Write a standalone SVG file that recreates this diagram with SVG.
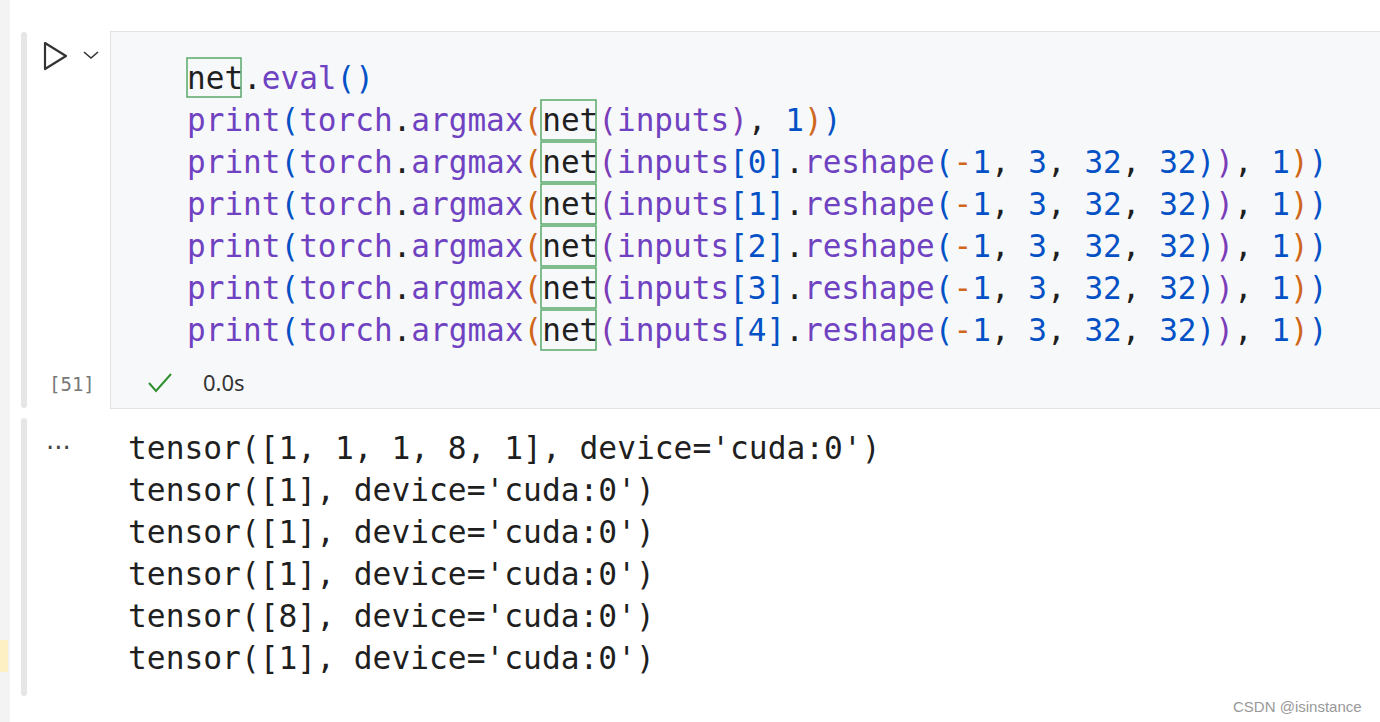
<svg xmlns="http://www.w3.org/2000/svg" width="1380" height="722" viewBox="0 0 1380 722">
<style>
.c{font-family:"DejaVu Sans Mono",monospace;font-size:31.05px;fill:#1f1f1f;white-space:pre}
.o2{font-size:31.25px}
.p{fill:#6f42c1}.b{fill:#0451c6}.o{fill:#d0661a}.v{fill:#7a3cb8}.n{fill:#0451c6}
.box{fill:none;stroke:#5aa96a;stroke-width:1.5}
</style>
<rect width="1380" height="722" fill="#ffffff"/>
<rect x="0" y="0" width="10" height="722" fill="#f3f3f3"/>
<rect x="0" y="640" width="8" height="32" fill="#fdf1c4"/>
<rect x="21" y="32" width="6" height="376" rx="3" fill="#e6e6e6"/>
<rect x="21" y="418" width="6" height="278" rx="3" fill="#e6e6e6"/>
<g id="cell">
<rect x="110.5" y="31.5" width="1275" height="377" fill="#f7f8fa" stroke="#e3e3e3"/>
<path d="M45 43 L66 56 L45 69 Z" fill="none" stroke="#333" stroke-width="2.2" stroke-linejoin="round"/>
<path d="M84 52 L91 58 L98 52" fill="none" stroke="#333" stroke-width="1.6"/>
<rect class="box" x="187" y="58" width="54" height="39"/>
<rect class="box" x="541" y="100" width="55" height="40"/>
<rect class="box" x="541" y="142" width="55" height="40"/>
<rect class="box" x="541" y="184" width="55" height="40"/>
<rect class="box" x="541" y="226" width="55" height="40"/>
<rect class="box" x="541" y="268" width="55" height="40"/>
<rect class="box" x="541" y="310" width="55" height="40"/>
<text class="c" x="187" y="89">net.<tspan class="p">eval</tspan><tspan class="b">()</tspan></text>
<text class="c" x="187" y="131"><tspan class="p">print</tspan><tspan class="b">(</tspan><tspan class="p">torch</tspan>.<tspan class="p">argmax</tspan><tspan class="o">(</tspan>net<tspan class="v">(</tspan><tspan class="p">inputs</tspan><tspan class="v">)</tspan>, <tspan class="n">1</tspan><tspan class="o">)</tspan><tspan class="b">)</tspan></text>
<text class="c" x="187" y="173"><tspan class="p">print</tspan><tspan class="b">(</tspan><tspan class="p">torch</tspan>.<tspan class="p">argmax</tspan><tspan class="o">(</tspan>net<tspan class="v">(</tspan><tspan class="p">inputs</tspan><tspan class="b">[</tspan><tspan class="n">0</tspan><tspan class="b">]</tspan>.<tspan class="p">reshape</tspan><tspan class="b">(</tspan><tspan class="o">-</tspan><tspan class="n">1</tspan>, <tspan class="n">3</tspan>, <tspan class="n">32</tspan>, <tspan class="n">32</tspan><tspan class="b">)</tspan><tspan class="v">)</tspan>, <tspan class="n">1</tspan><tspan class="o">)</tspan><tspan class="b">)</tspan></text>
<text class="c" x="187" y="215"><tspan class="p">print</tspan><tspan class="b">(</tspan><tspan class="p">torch</tspan>.<tspan class="p">argmax</tspan><tspan class="o">(</tspan>net<tspan class="v">(</tspan><tspan class="p">inputs</tspan><tspan class="b">[</tspan><tspan class="n">1</tspan><tspan class="b">]</tspan>.<tspan class="p">reshape</tspan><tspan class="b">(</tspan><tspan class="o">-</tspan><tspan class="n">1</tspan>, <tspan class="n">3</tspan>, <tspan class="n">32</tspan>, <tspan class="n">32</tspan><tspan class="b">)</tspan><tspan class="v">)</tspan>, <tspan class="n">1</tspan><tspan class="o">)</tspan><tspan class="b">)</tspan></text>
<text class="c" x="187" y="257"><tspan class="p">print</tspan><tspan class="b">(</tspan><tspan class="p">torch</tspan>.<tspan class="p">argmax</tspan><tspan class="o">(</tspan>net<tspan class="v">(</tspan><tspan class="p">inputs</tspan><tspan class="b">[</tspan><tspan class="n">2</tspan><tspan class="b">]</tspan>.<tspan class="p">reshape</tspan><tspan class="b">(</tspan><tspan class="o">-</tspan><tspan class="n">1</tspan>, <tspan class="n">3</tspan>, <tspan class="n">32</tspan>, <tspan class="n">32</tspan><tspan class="b">)</tspan><tspan class="v">)</tspan>, <tspan class="n">1</tspan><tspan class="o">)</tspan><tspan class="b">)</tspan></text>
<text class="c" x="187" y="299"><tspan class="p">print</tspan><tspan class="b">(</tspan><tspan class="p">torch</tspan>.<tspan class="p">argmax</tspan><tspan class="o">(</tspan>net<tspan class="v">(</tspan><tspan class="p">inputs</tspan><tspan class="b">[</tspan><tspan class="n">3</tspan><tspan class="b">]</tspan>.<tspan class="p">reshape</tspan><tspan class="b">(</tspan><tspan class="o">-</tspan><tspan class="n">1</tspan>, <tspan class="n">3</tspan>, <tspan class="n">32</tspan>, <tspan class="n">32</tspan><tspan class="b">)</tspan><tspan class="v">)</tspan>, <tspan class="n">1</tspan><tspan class="o">)</tspan><tspan class="b">)</tspan></text>
<text class="c" x="187" y="341"><tspan class="p">print</tspan><tspan class="b">(</tspan><tspan class="p">torch</tspan>.<tspan class="p">argmax</tspan><tspan class="o">(</tspan>net<tspan class="v">(</tspan><tspan class="p">inputs</tspan><tspan class="b">[</tspan><tspan class="n">4</tspan><tspan class="b">]</tspan>.<tspan class="p">reshape</tspan><tspan class="b">(</tspan><tspan class="o">-</tspan><tspan class="n">1</tspan>, <tspan class="n">3</tspan>, <tspan class="n">32</tspan>, <tspan class="n">32</tspan><tspan class="b">)</tspan><tspan class="v">)</tspan>, <tspan class="n">1</tspan><tspan class="o">)</tspan><tspan class="b">)</tspan></text>
<text x="49" y="391" font-family="'DejaVu Sans Mono',monospace" font-size="19" fill="#777">[51]</text>
<path d="M149 383 L156 391 L171 374" fill="none" stroke="#2f8f2f" stroke-width="2"/>
<text x="203" y="391" font-family="'Noto Sans',sans-serif" font-size="22" fill="#333">0.0s</text>
</g>
<g id="output">
<text x="46" y="457" font-family="'DejaVu Sans',sans-serif" font-size="26" fill="#444">···</text>
<text class="c o2" x="128" y="459">tensor([1, 1, 1, 8, 1], device='cuda:0')</text>
<text class="c o2" x="128" y="501">tensor([1], device='cuda:0')</text>
<text class="c o2" x="128" y="543">tensor([1], device='cuda:0')</text>
<text class="c o2" x="128" y="585">tensor([1], device='cuda:0')</text>
<text class="c o2" x="128" y="627">tensor([8], device='cuda:0')</text>
<text class="c o2" x="128" y="669">tensor([1], device='cuda:0')</text>
</g>
<text x="1233" y="712" font-family="'Liberation Sans',sans-serif" font-size="15" fill="#999">CSDN @isinstance</text>
</svg>
